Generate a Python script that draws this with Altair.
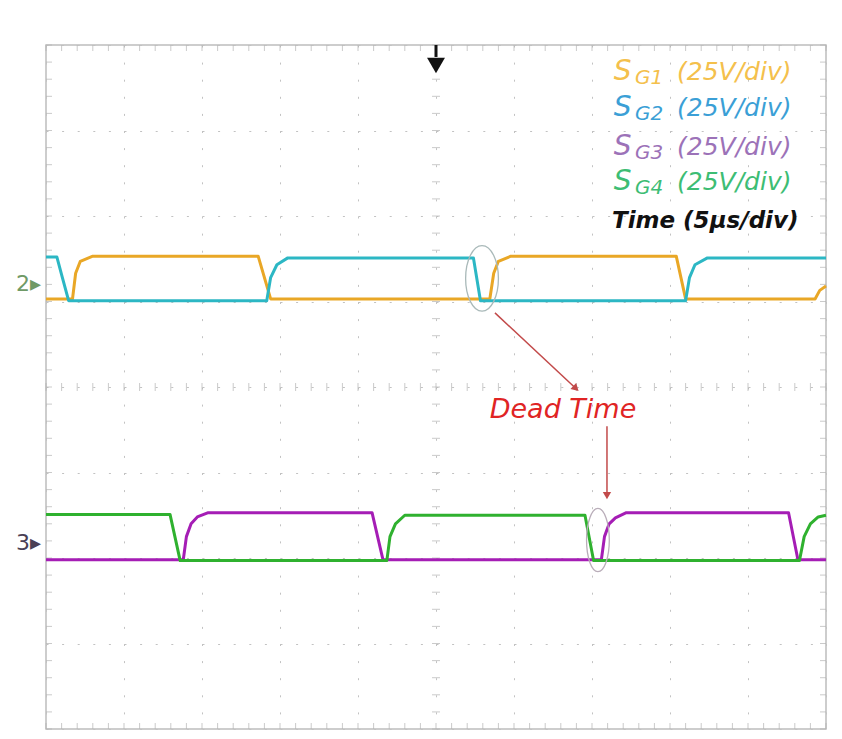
import altair as alt
import pandas as pd

# ---- data (time in µs: 5 µs/div, 10 div; level in screen divisions: 8 div) ----
X_DIVS = [0, 5, 10, 15, 20, 25, 30, 35, 40, 45, 50]
Y_DIVS = [-4, -3, -2, -1, 0, 1, 2, 3, 4]

SG1_T = [0, 1.7, 1.9, 2.2, 3.0, 13.6, 14.4, 28.45, 28.7, 29.0, 29.8, 40.4, 41.0, 49.3, 49.6, 50.0]
SG1_V = [1.03, 1.03, 1.33, 1.47, 1.53, 1.53, 1.03, 1.03, 1.33, 1.47, 1.53, 1.53, 1.03, 1.03, 1.13, 1.18]

SG2_T = [0, 0.7, 1.05, 1.45, 14.15, 14.4, 14.8, 15.5, 27.4, 27.85, 41.0, 41.25, 41.6, 42.4, 50.0]
SG2_V = [1.52, 1.52, 1.28, 1.01, 1.01, 1.28, 1.43, 1.51, 1.51, 1.01, 1.01, 1.28, 1.43, 1.51, 1.51]

SG3_T = [0, 8.8, 9.0, 9.3, 9.7, 10.4, 20.9, 21.6, 35.6, 35.8, 36.1, 36.5, 37.2, 47.6, 48.2, 50.0]
SG3_V = [-2.02, -2.02, -1.75, -1.6, -1.52, -1.47, -1.47, -2.02, -2.02, -1.75, -1.6, -1.53, -1.47, -1.47, -2.02, -2.02]

SG4_T = [0, 7.95, 8.6, 21.85, 22.05, 22.4, 23.0, 34.55, 35.1, 48.3, 48.6, 49.0, 49.5, 50.0]
SG4_V = [-1.49, -1.49, -2.03, -2.03, -1.75, -1.6, -1.5, -1.5, -2.03, -2.03, -1.75, -1.6, -1.52, -1.5]

SERIES = ["SG1", "SG2", "SG3", "SG4"]
TRACE_COLORS = ["#e9a726", "#2cb7c4", "#a51db5", "#2fb12f"]
LEGEND_COLORS = ["#f4c04c", "#3b9fd6", "#9c72b8", "#3dbd74"]
LEGEND_SUBS = ["G1", "G2", "G3", "G4"]
LEGEND_UNIT = "(25V/div)"
LEGEND_Y = [3.685, 3.265, 2.811, 2.392]
TIME_TEXT = "Time (5µs/div)"
TIME_Y = 1.938
LEGEND_X_S = 36.4
LEGEND_X_SUB = 37.75
LEGEND_X_UNIT = 40.45

# annotations (data units)
ELLIPSE_T = [27.95, 35.38]
ELLIPSE_V = [1.27, -1.79]
ARROW1_T = [28.78, 33.97]
ARROW1_V = [0.867, -0.017]
ARROW2_T = [35.96, 35.96]
ARROW2_V = [-0.46, -1.27]
DEAD_T, DEAD_V, DEAD_TEXT = 33.14, -0.27, "Dead Time"
TRIG_T = 25.0
TRIG_V = [4.0, 3.86]
TRIG_HEAD_V = 3.76
MARKERS = ["2▸", "3▸"]
MARKER_V = [1.20, -1.83]
MARKER_COLORS = ["#6f9a66", "#4a3f55"]

W, H = 780, 684
xs = alt.Scale(domain=[0, 50], nice=False, zero=False)
ys = alt.Scale(domain=[-4, 4], nice=False, zero=False)
xaxis = alt.Axis(values=X_DIVS, grid=True, gridDash=[2, 15.1], gridColor="#c2c2c2",
                 gridWidth=1, labels=False, ticks=False, domain=False, title=None)
yaxis = alt.Axis(values=Y_DIVS, grid=True, gridDash=[2, 13.6], gridColor="#c2c2c2",
                 gridWidth=1, labels=False, ticks=False, domain=False, title=None)


def X(field="t:Q"):
    return alt.X(field, scale=xs, axis=xaxis)


def Y(field="v:Q"):
    return alt.Y(field, scale=ys, axis=yaxis)


rows = []
for name, ts, vs in [("SG1", SG1_T, SG1_V), ("SG2", SG2_T, SG2_V),
                     ("SG3", SG3_T, SG3_V), ("SG4", SG4_T, SG4_V)]:
    for i, (t, v) in enumerate(zip(ts, vs)):
        rows.append({"ch": name, "t": t, "v": v, "i": i})
traces_df = pd.DataFrame(rows)

TICK = "#b4b4b4"
# minor ticks on centre cross and frame edges
vseq = alt.sequence(-4, 4.01, 0.2, as_="v")
tseq = alt.sequence(0, 50.01, 1, as_="t")
tick_cv = alt.Chart(vseq).mark_tick(orient="horizontal", size=8, thickness=1, color=TICK).encode(
    x=alt.datum(25, scale=xs, axis=xaxis), y=Y())
tick_ch = alt.Chart(tseq).mark_tick(orient="vertical", size=8, thickness=1, color=TICK).encode(
    x=X(), y=alt.datum(0, scale=ys, axis=yaxis))
tick_top = alt.Chart(tseq).mark_tick(orient="vertical", size=6, thickness=1, color=TICK, yOffset=3).encode(
    x=X(), y=alt.datum(4, scale=ys, axis=yaxis))
tick_bot = alt.Chart(tseq).mark_tick(orient="vertical", size=6, thickness=1, color=TICK, yOffset=-3).encode(
    x=X(), y=alt.datum(-4, scale=ys, axis=yaxis))
tick_l = alt.Chart(vseq).mark_tick(orient="horizontal", size=6, thickness=1, color=TICK, xOffset=3).encode(
    x=alt.datum(0, scale=xs, axis=xaxis), y=Y())
tick_r = alt.Chart(vseq).mark_tick(orient="horizontal", size=6, thickness=1, color=TICK, xOffset=-3).encode(
    x=alt.datum(50, scale=xs, axis=xaxis), y=Y())

traces = alt.Chart(traces_df).mark_line(strokeWidth=3, strokeJoin="round").encode(
    x=X(), y=Y(),
    color=alt.Color("ch:N", scale=alt.Scale(domain=SERIES, range=TRACE_COLORS), legend=None),
    detail="ch:N",
    order="i:Q",
)

ell1 = alt.Chart(pd.DataFrame({"t": ELLIPSE_T[:1], "v": ELLIPSE_V[:1]})).mark_point(
    shape="M0,-1 A0.5,1 0 1,1 0,1 A0.5,1 0 1,1 0,-1 Z", size=4300, filled=False,
    stroke="#a9b9b9", strokeWidth=1.3, opacity=1).encode(x=X(), y=Y())
ell2 = alt.Chart(pd.DataFrame({"t": ELLIPSE_T[1:], "v": ELLIPSE_V[1:]})).mark_point(
    shape="M0,-1 A0.36,1 0 1,1 0,1 A0.36,1 0 1,1 0,-1 Z", size=4000, filled=False,
    stroke="#b9adb9", strokeWidth=1.3, opacity=1).encode(x=X(), y=Y())

ARROW = "#c24a4a"
a1 = pd.DataFrame({"t": ARROW1_T, "v": ARROW1_V, "i": [0, 1]})
arrow1 = alt.Chart(a1).mark_line(color=ARROW, strokeWidth=1.5).encode(x=X(), y=Y(), order="i:Q")
head1 = alt.Chart(a1.iloc[[1]]).mark_point(shape="triangle-up", angle=133, size=70, filled=True,
                                           color=ARROW, opacity=1).encode(x=X(), y=Y())
a2 = pd.DataFrame({"t": ARROW2_T, "v": ARROW2_V, "i": [0, 1]})
arrow2 = alt.Chart(a2).mark_line(color=ARROW, strokeWidth=1.5).encode(x=X(), y=Y(), order="i:Q")
head2 = alt.Chart(a2.iloc[[1]]).mark_point(shape="triangle-down", size=70, filled=True,
                                           color=ARROW, opacity=1).encode(x=X(), y=Y())

dead = alt.Chart(pd.DataFrame({"t": [DEAD_T], "v": [DEAD_V], "s": [DEAD_TEXT]})).mark_text(
    font="DejaVu Sans", fontSize=27, fontStyle="italic", color="#e02424",
    align="center", baseline="middle").encode(x=X(), y=Y(), text="s:N")

leg_df = pd.DataFrame({"v": LEGEND_Y, "c": LEGEND_COLORS, "sub": LEGEND_SUBS,
                       "unit": [LEGEND_UNIT] * 4, "S": ["S"] * 4,
                       "tS": [LEGEND_X_S] * 4, "tG": [LEGEND_X_SUB] * 4, "tU": [LEGEND_X_UNIT] * 4})
leg_s = alt.Chart(leg_df).mark_text(font="DejaVu Sans", fontSize=28, fontStyle="italic",
                                    align="left", baseline="middle").encode(
    x=X("tS:Q"), y=Y(), text="S:N", color=alt.Color("c:N", scale=None))
leg_sub = alt.Chart(leg_df).mark_text(font="DejaVu Sans", fontSize=20, fontStyle="italic",
                                      align="left", baseline="middle", dy=6).encode(
    x=X("tG:Q"), y=Y(), text="sub:N", color=alt.Color("c:N", scale=None))
leg_unit = alt.Chart(leg_df).mark_text(font="DejaVu Sans", fontSize=25, fontStyle="italic",
                                       align="left", baseline="middle").encode(
    x=X("tU:Q"), y=Y(), text="unit:N", color=alt.Color("c:N", scale=None))
time_txt = alt.Chart(pd.DataFrame({"t": [36.28], "v": [TIME_Y], "s": [TIME_TEXT]})).mark_text(
    font="DejaVu Sans", fontSize=23, fontStyle="italic", fontWeight="bold", color="#111111",
    align="left", baseline="middle").encode(x=X(), y=Y(), text="s:N")

trig = pd.DataFrame({"t": [TRIG_T, TRIG_T], "v": TRIG_V, "i": [0, 1]})
trig_shaft = alt.Chart(trig).mark_line(color="#111111", strokeWidth=3).encode(x=X(), y=Y(), order="i:Q")
trig_head = alt.Chart(pd.DataFrame({"t": [TRIG_T], "v": [TRIG_HEAD_V]})).mark_point(
    shape="triangle-down", size=320, filled=True, color="#111111", opacity=1).encode(x=X(), y=Y())

mk = pd.DataFrame({"t": [0, 0], "v": MARKER_V, "s": MARKERS, "c": MARKER_COLORS})
markers = alt.Chart(mk).mark_text(font="DejaVu Sans", fontSize=22, align="right",
                                  baseline="middle", dx=-5).encode(
    x=X(), y=Y(), text="s:N", color=alt.Color("c:N", scale=None))

chart = alt.layer(
    tick_cv, tick_ch, tick_top, tick_bot, tick_l, tick_r,
    traces, ell1, ell2, arrow1, head1, arrow2, head2, dead,
    leg_s, leg_sub, leg_unit, time_txt, trig_shaft, trig_head, markers,
).properties(
    width=W, height=H,
    autosize=alt.AutoSizeParams(type="none"),
    padding={"left": 38, "top": 37, "right": 8, "bottom": 1},
    background="white",
).configure_view(stroke="#bdbdbd", strokeWidth=1.5)

chart.save("out.html", embed_options={"renderer": "svg", "actions": False})
